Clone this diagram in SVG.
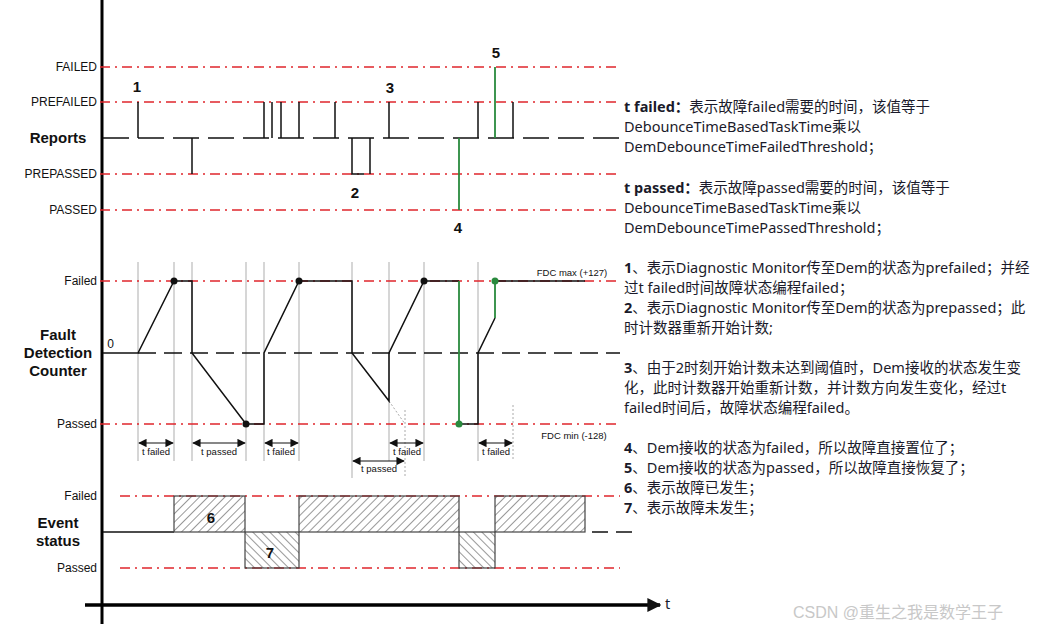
<svg xmlns="http://www.w3.org/2000/svg" width="1048" height="631" viewBox="0 0 1048 631">
<defs>
<style>
.red{stroke:#e0262d;stroke-width:1.3;stroke-dasharray:10 5 2 5;fill:none}
.lbl{font-family:"Liberation Sans",Arial,sans-serif;font-size:12px;fill:#111;text-anchor:end}
.big{font-family:"Liberation Sans",Arial,sans-serif;font-size:15px;font-weight:bold;fill:#111;text-anchor:middle}
.num{font-family:"Liberation Sans",Arial,sans-serif;font-size:15px;font-weight:bold;fill:#111;text-anchor:middle}
.sm{font-family:"Liberation Sans",Arial,sans-serif;font-size:9.5px;fill:#111;text-anchor:middle}
.k{stroke:#111;stroke-width:1.5;fill:none}
.g{stroke:#2a8a3e;stroke-width:1.8;fill:none}
.gv{stroke:#bbb;stroke-width:1.2}
.gd{stroke:#aaa;stroke-width:1;stroke-dasharray:2 2}
.ar{stroke:#111;stroke-width:1.2;marker-start:url(#a);marker-end:url(#a)}
.tx{font-family:"Noto Sans","Noto Sans CJK SC",sans-serif;font-size:14.5px;fill:#1a1a2a}
</style>
<marker id="a" viewBox="0 0 10 10" refX="9" refY="5" markerWidth="7" markerHeight="7" orient="auto-start-reverse"><path d="M0,0L10,5L0,10z" fill="#111"/></marker>
<marker id="ta" viewBox="0 0 10 10" refX="9" refY="5" markerWidth="4" markerHeight="4" orient="auto"><path d="M0,0L10,5L0,10z" fill="#111"/></marker>
<pattern id="h1" width="6" height="6" patternUnits="userSpaceOnUse" patternTransform="rotate(45)"><line x1="0" y1="0" x2="0" y2="6" stroke="#333" stroke-width="1"/></pattern>
<pattern id="h2" width="6" height="6" patternUnits="userSpaceOnUse" patternTransform="rotate(-45)"><line x1="0" y1="0" x2="0" y2="6" stroke="#333" stroke-width="1"/></pattern>
</defs>
<rect width="1048" height="631" fill="#fff"/>
<g id="axes">
<line x1="102" y1="0" x2="102" y2="624" stroke="#000" stroke-width="3"/>
<line x1="85" y1="605" x2="660" y2="605" stroke="#000" stroke-width="3.5" marker-end="url(#ta)"/>
<text x="665" y="609" class="tx" font-size="12">t</text>
</g>
<g id="reports">
<line class="red" x1="100" y1="67" x2="620" y2="67"/>
<line class="red" x1="100" y1="102" x2="620" y2="102"/>
<line class="red" x1="100" y1="174" x2="620" y2="174"/>
<line class="red" x1="100" y1="210" x2="620" y2="210"/>
<text class="lbl" x="97" y="71">FAILED</text>
<text class="lbl" x="97" y="106">PREFAILED</text>
<text class="big" x="58" y="143">Reports</text>
<text class="lbl" x="97" y="178">PREPASSED</text>
<text class="lbl" x="97" y="214">PASSED</text>
<line x1="103" y1="138" x2="620" y2="138" stroke="#111" stroke-width="1.5" stroke-dasharray="26 9"/>
<path class="k" d="M138,138V102M192,138V174M264,138V102M272,138V102M281,138V102M299,138V102M335,138V102M352,138V174H364M370,138V174M389,138V102M478,138V102M513,138V102"/>
<path class="g" d="M459,138V210M495,138V67"/>
<text class="num" x="137" y="92">1</text>
<text class="num" x="355" y="198">2</text>
<text class="num" x="390" y="93">3</text>
<text class="num" x="458" y="233">4</text>
<text class="num" x="496" y="58">5</text>
</g>
<g id="fdc">
<path class="gv" d="M138,262V461M174,262V461M192,262V461M246,262V461M264,262V461M299,262V461M352,262V478M389,262V461M424,262V461M478,262V461"/>
<path class="gd" d="M405,410V478M513,405V461M389,401L405,424"/>
<line class="red" x1="100" y1="281" x2="620" y2="281"/>
<line class="red" x1="100" y1="424" x2="620" y2="424"/>
<line x1="138" y1="353" x2="620" y2="353" stroke="#111" stroke-width="1.5" stroke-dasharray="18 8"/>
<text class="lbl" x="97" y="285">Failed</text>
<text class="lbl" x="97" y="428">Passed</text>
<text class="big" x="58" y="340">Fault</text>
<text class="big" x="58" y="358">Detection</text>
<text class="big" x="58" y="376">Counter</text>
<text class="lbl" x="114" y="348">0</text>
<text class="sm" x="572" y="276">FDC max (+127)</text>
<text class="sm" x="574" y="439">FDC min (-128)</text>
<path class="k" d="M103,353H138L174,281H192V353L246,424H264V353L299,281H352V353L389,401V353L424,281H459M459,424H478V353L495,318M495,281H585"/>
<path class="g" d="M459,281V424M495,318V281"/>
<g fill="#111"><circle cx="174" cy="281" r="3.5"/><circle cx="246" cy="424" r="3.5"/><circle cx="299" cy="281" r="3.5"/><circle cx="424" cy="281" r="3.5"/></g>
<g fill="#2a8a3e"><circle cx="459" cy="424" r="3.5"/><circle cx="495" cy="281" r="3.5"/></g>
<line class="ar" x1="139" y1="443" x2="173" y2="443"/>
<line class="ar" x1="193" y1="443" x2="245" y2="443"/>
<line class="ar" x1="265" y1="443" x2="298" y2="443"/>
<line class="ar" x1="390" y1="443" x2="423" y2="443"/>
<line class="ar" x1="479" y1="443" x2="512" y2="443"/>
<line class="ar" x1="353" y1="461" x2="404" y2="461"/>
<text class="sm" x="156" y="455">t failed</text>
<text class="sm" x="219" y="455">t passed</text>
<text class="sm" x="281" y="455">t failed</text>
<text class="sm" x="407" y="455">t failed</text>
<text class="sm" x="496" y="455">t failed</text>
<text class="sm" x="379" y="472">t passed</text>
</g>
<g id="event">
<line class="red" x1="120" y1="496" x2="620" y2="496"/>
<line class="red" x1="120" y1="568" x2="620" y2="568"/>
<text class="lbl" x="97" y="500">Failed</text>
<text class="lbl" x="97" y="572">Passed</text>
<text class="big" x="58" y="528">Event</text>
<text class="big" x="58" y="546">status</text>
<line x1="103" y1="532" x2="174" y2="532" stroke="#111" stroke-width="1.5"/>
<g stroke="#444" stroke-width="1.2">
<rect x="174" y="496" width="71" height="36" fill="url(#h1)"/>
<rect x="245" y="532" width="54" height="36" fill="url(#h2)"/>
<rect x="299" y="496" width="160" height="36" fill="url(#h1)"/>
<rect x="459" y="532" width="36" height="36" fill="url(#h2)"/>
<rect x="495" y="496" width="90" height="36" fill="url(#h1)"/>
</g>
<line x1="592" y1="532" x2="640" y2="532" stroke="#111" stroke-width="1.5" stroke-dasharray="16 8"/>
<text class="num" x="211" y="523">6</text>
<text class="num" x="270" y="558">7</text>
</g>
<g id="notes" class="tx">
<text x="624" y="112"><tspan font-weight="bold">t failed：</tspan>表示故障failed需要的时间，该值等于</text>
<text x="624" y="132">DebounceTimeBasedTaskTime乘以</text>
<text x="624" y="152">DemDebounceTimeFailedThreshold；</text>
<text x="624" y="193"><tspan font-weight="bold">t passed：</tspan>表示故障passed需要的时间，该值等于</text>
<text x="624" y="213">DebounceTimeBasedTaskTime乘以</text>
<text x="624" y="233">DemDebounceTimePassedThreshold；</text>
<text x="624" y="273"><tspan font-weight="bold">1</tspan>、表示Diagnostic Monitor传至Dem的状态为prefailed；并经</text>
<text x="624" y="293">过t failed时间故障状态编程failed；</text>
<text x="624" y="313"><tspan font-weight="bold">2</tspan>、表示Diagnostic Monitor传至Dem的状态为prepassed；此</text>
<text x="624" y="333">时计数器重新开始计数;</text>
<text x="624" y="373"><tspan font-weight="bold">3</tspan>、由于2时刻开始计数未达到阈值时，Dem接收的状态发生变</text>
<text x="624" y="393">化，此时计数器开始重新计数，并计数方向发生变化，经过t</text>
<text x="624" y="413">failed时间后，故障状态编程failed。</text>
<text x="624" y="453"><tspan font-weight="bold">4</tspan>、Dem接收的状态为failed，所以故障直接置位了；</text>
<text x="624" y="473"><tspan font-weight="bold">5</tspan>、Dem接收的状态为passed，所以故障直接恢复了；</text>
<text x="624" y="493"><tspan font-weight="bold">6</tspan>、表示故障已发生；</text>
<text x="624" y="513"><tspan font-weight="bold">7</tspan>、表示故障未发生；</text>
</g>
<text x="793" y="618" font-family="Liberation Sans,'Noto Sans CJK SC',sans-serif" font-size="16" fill="#c8c8c8">CSDN @重生之我是数学王子</text>
</svg>
